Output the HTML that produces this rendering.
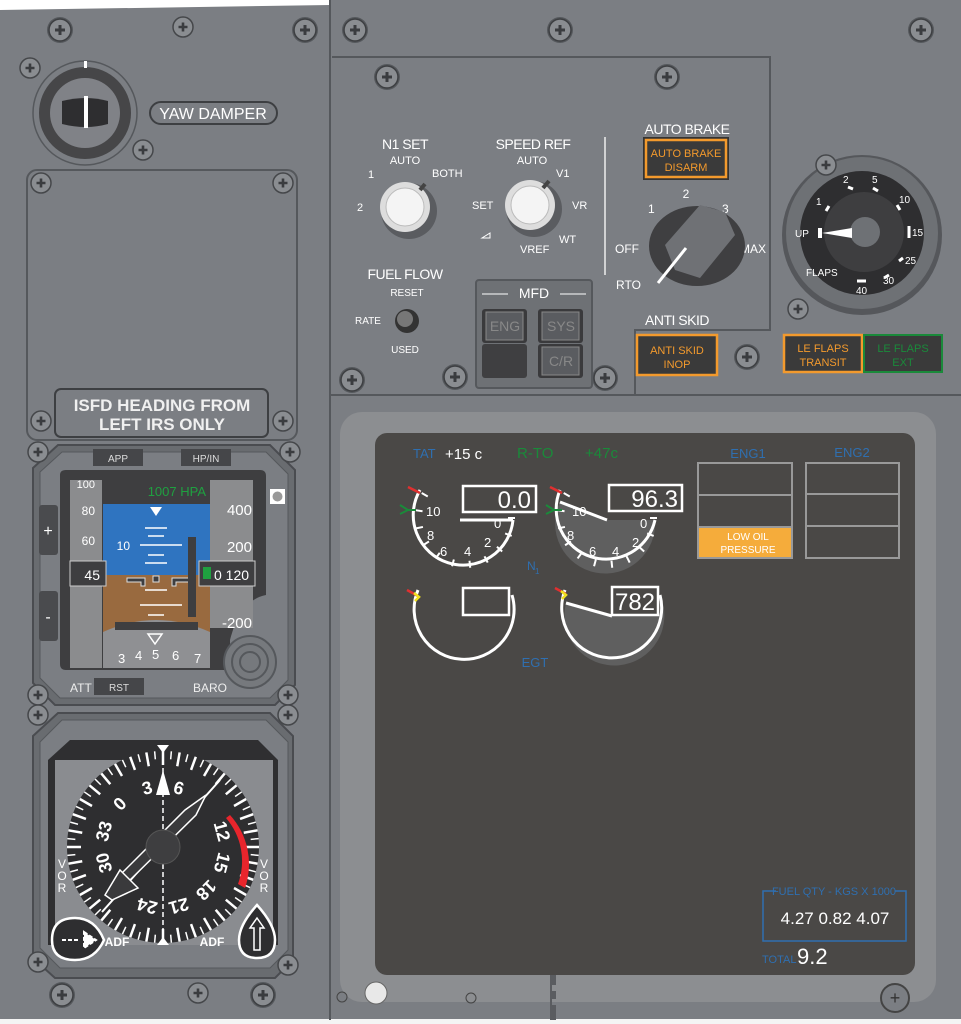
<!DOCTYPE html>
<html><head><meta charset="utf-8"><style>
html,body{margin:0;padding:0;background:#fff}
svg{display:block}
text{font-family:"Liberation Sans",sans-serif}
</style></head><body>
<svg id="s" width="961" height="1024" viewBox="0 0 961 1024" xmlns="http://www.w3.org/2000/svg">
<defs>
<g id="sc"><circle r="13" fill="#55585c"/><circle r="11" fill="#8a8d91" stroke="#3d3f42" stroke-width="1.5"/><path d="M-5,-1.5h3.5v-3.5h3v3.5h3.5v3h-3.5v3.5h-3v-3.5h-3.5z" fill="#3a3c3f"/></g>
<g id="ss"><circle r="10" fill="#8a8d91" stroke="#45474a" stroke-width="1.5"/><path d="M-4.5,-1.3h3.2v-3.2h2.6v3.2h3.2v2.6h-3.2v3.2h-2.6v-3.2h-3.2z" fill="#3a3c3f"/></g>
</defs>
<rect width="961" height="1024" fill="#7b7e83"/>
<path d="M0,0 H330 V5 L0,10z" fill="#fff"/>
<rect x="0" y="1019" width="961" height="5" fill="#f4f4f4"/>
<line x1="330" y1="0" x2="330" y2="1020" stroke="#55585c" stroke-width="2"/>
<line x1="330" y1="395" x2="961" y2="395" stroke="#55585c" stroke-width="2"/>
<path d="M332,57 H770 V330 H635 V395" fill="none" stroke="#55585c" stroke-width="2"/>

<!-- yaw damper -->
<circle cx="85" cy="113" r="52" fill="#7b7e83" stroke="#55585c" stroke-width="1.5"/>
<circle cx="85" cy="113" r="46" fill="#464648"/>
<circle cx="85" cy="113" r="35" fill="#808287"/>
<path d="M62,101 Q86,95 108,101 V124 Q86,130 62,124z" fill="#2e2e30"/>
<rect x="84" y="96" width="4" height="32" fill="#fff"/>
<rect x="84" y="61" width="3" height="7" fill="#fff"/>
<rect x="150" y="102" width="127" height="22" rx="11" fill="none" stroke="#3d3f42" stroke-width="2"/>
<text x="213" y="119" font-size="16" fill="#fff" text-anchor="middle">YAW DAMPER</text>

<!-- ISFD panel -->
<rect x="27" y="170" width="270" height="270" rx="10" fill="none" stroke="#55585c" stroke-width="2"/>
<rect x="55" y="389" width="213" height="48" rx="6" fill="none" stroke="#3d3f42" stroke-width="2"/>
<text x="162" y="411" font-size="17" font-weight="bold" fill="#f0f0f0" text-anchor="middle">ISFD HEADING FROM</text>
<text x="162" y="430" font-size="17" font-weight="bold" fill="#f0f0f0" text-anchor="middle">LEFT IRS ONLY</text>

<!-- ADI bezel -->
<path d="M58,445 H270 L295,470 V685 L275,705 H55 L33,683 V468z" fill="#696c70" stroke="#4a4c50" stroke-width="2"/>
<path d="M62,452 H266 L288,474 V680 L270,698 H60 L40,678 V472z" fill="#7b7e83" stroke="#55585c"/>
<rect x="93" y="449" width="50" height="17" fill="#454649"/><text x="118" y="462" font-size="10" fill="#ddd" text-anchor="middle">APP</text>
<rect x="181" y="449" width="50" height="17" fill="#454649"/><text x="206" y="462" font-size="10" fill="#ddd" text-anchor="middle">HP/IN</text>
<rect x="94" y="678" width="50" height="17" fill="#454649"/><text x="119" y="691" font-size="10" fill="#ddd" text-anchor="middle">RST</text>
<text x="70" y="692" font-size="12" fill="#eee">ATT</text>
<text x="193" y="692" font-size="12" fill="#eee">BARO</text>
<rect x="39" y="505" width="19" height="50" rx="3" fill="#4a4b4e"/><text x="48" y="536" font-size="16" fill="#fff" text-anchor="middle">+</text>
<rect x="39" y="591" width="19" height="50" rx="3" fill="#4a4b4e"/><text x="48" y="622" font-size="16" fill="#fff" text-anchor="middle">-</text>
<rect x="270" y="489" width="15" height="15" fill="#fff"/><circle cx="277.5" cy="496.5" r="5" fill="#999"/>
<path d="M60,475 Q60,470 66,470 H260 Q266,470 266,476 V595 Q240,600 230,640 V670 H66 Q60,670 60,664z" fill="#3e3e40"/>
<rect x="70" y="480" width="32" height="188" fill="#8b8c8e"/>
<rect x="210" y="480" width="43" height="148" fill="#8b8c8e"/>
<rect x="103" y="504" width="107" height="71" fill="#2f74c0"/>
<rect x="103" y="575" width="107" height="57" fill="#996a3f"/>
<path d="M103,632 Q156,608 210,632 V668 H103z" fill="#8f9093"/>
<text x="206" y="496" font-size="13" fill="#1fa040" text-anchor="end">1007 HPA</text>
<text x="95" y="488" font-size="11" fill="#fff" text-anchor="end">100</text>
<text x="95" y="515" font-size="12" fill="#fff" text-anchor="end">80</text>
<text x="95" y="545" font-size="12" fill="#fff" text-anchor="end">60</text>
<text x="252" y="515" font-size="15" fill="#fff" text-anchor="end">400</text>
<text x="252" y="552" font-size="15" fill="#fff" text-anchor="end">200</text>
<text x="252" y="628" font-size="15" fill="#fff" text-anchor="end">-200</text>
<rect x="70" y="561" width="36" height="25" fill="#3e3e40" stroke="#ccc"/><text x="100" y="580" font-size="14" fill="#fff" text-anchor="end">45</text>
<rect x="199" y="561" width="56" height="25" fill="#3e3e40" stroke="#ccc"/><rect x="203" y="567" width="8" height="12" fill="#1fa040"/><text x="214" y="580" font-size="14" fill="#fff">0 120</text>
<path d="M150,507 h12 l-6,9z" fill="#fff"/>
<text x="130" y="550" font-size="12" fill="#fff" text-anchor="end">10</text>
<g stroke="#fff" stroke-width="1.5"><line x1="140" y1="545" x2="182" y2="545"/><line x1="145" y1="528" x2="167" y2="528"/><line x1="148" y1="536" x2="164" y2="536"/><line x1="148" y1="555" x2="164" y2="555"/><line x1="145" y1="563" x2="167" y2="563"/><line x1="140" y1="605" x2="182" y2="605"/><line x1="145" y1="590" x2="167" y2="590"/><line x1="148" y1="615" x2="164" y2="615"/></g>
<path d="M127,578 h18 v8 h-4 v-4 h-14z M172,578 h18 v4 h-14 v4 h-4z" fill="#3e3e40" stroke="#ddd"/>
<rect x="153" y="576" width="6" height="6" fill="#3e3e40" stroke="#ddd"/>
<rect x="188" y="537" width="8" height="80" fill="#3e3e40"/>
<rect x="115" y="622" width="83" height="8" fill="#3e3e40"/>
<path d="M148,634 h14 l-7,10z" fill="none" stroke="#fff" stroke-width="1.5"/>
<text x="118" y="663" font-size="13" fill="#fff">3</text><text x="135" y="660" font-size="13" fill="#fff">4</text><text x="152" y="659" font-size="13" fill="#fff">5</text><text x="172" y="660" font-size="13" fill="#fff">6</text><text x="194" y="663" font-size="13" fill="#fff">7</text>
<circle cx="250" cy="662" r="26" fill="#76797d" stroke="#55585c" stroke-width="2"/><circle cx="250" cy="662" r="18" fill="none" stroke="#55585c" stroke-width="2"/><circle cx="250" cy="662" r="10" fill="none" stroke="#55585c" stroke-width="2"/>

<!-- compass bezel -->
<path d="M58,713 H270 L293,736 V960 L275,978 H55 L33,958 V736z" fill="#696c70" stroke="#4a4c50" stroke-width="2"/>
<path d="M62,720 H266 L288,742 V950 L270,968 H60 L40,948 V742z" fill="#7b7e83" stroke="#55585c"/>
<path d="M70,740 H258 L278,760 V945 H48 V760z" fill="#2f2f31"/>
<rect x="55" y="760" width="218" height="185" fill="#8a8c90"/>
<circle cx="163" cy="847" r="96" fill="#2e2e30"/>
<g id="cticks" stroke="#fff"></g>
<path d="M230,815 A73,73 0 0 1 245,888 L238,884 A66,66 0 0 0 226,818z" fill="#e8252c"/>
<g font-size="18" font-weight="bold" fill="#fff" text-anchor="middle" id="clabels">
<text transform="rotate(-45 163 847) translate(163 792)">0</text>
<text transform="rotate(-15 163 847) translate(163 792)">3</text>
<text transform="rotate(15 163 847) translate(163 792)">6</text>
<text transform="rotate(75 163 847) translate(163 792)">12</text>
<text transform="rotate(105 163 847) translate(163 792)">15</text>
<text transform="rotate(135 163 847) translate(163 792)">18</text>
<text transform="rotate(165 163 847) translate(163 792)">21</text>
<text transform="rotate(195 163 847) translate(163 792)">24</text>
<text transform="rotate(255 163 847) translate(163 792)">30</text>
<text transform="rotate(285 163 847) translate(163 792)">33</text>
</g>
<line x1="163" y1="760" x2="163" y2="935" stroke="#fff" stroke-width="1.5" stroke-dasharray="5,3"/>
<path d="M163,770 L170,795 H156z" fill="#fff"/>
<line x1="102" y1="912" x2="220" y2="780" stroke="#fff" stroke-width="2"/>
<path d="M206,795 L196,815 L130,880 L120,875 L185,810z" fill="#3a3a3c" stroke="#fff" stroke-width="1.5"/>
<path d="M120,870 L138,888 L112,900 L105,895z" fill="#3a3a3c" stroke="#fff" stroke-width="1.5"/>
<circle cx="163" cy="847" r="17" fill="#3e3e40" stroke="#555"/>
<path d="M157,745 h12 l-6,8z M157,945 h12 l-6,-8z" fill="#fff"/>
<g font-size="12" fill="#fff" text-anchor="middle"><text x="62" y="868">V</text><text x="62" y="880">O</text><text x="62" y="892">R</text><text x="264" y="868">V</text><text x="264" y="880">O</text><text x="264" y="892">R</text>
<text x="117" y="946" font-weight="bold">ADF</text><text x="212" y="946" font-weight="bold">ADF</text></g>
<path d="M52,940 Q52,918 75,918 Q95,918 104,940 Q95,960 75,960 Q52,960 52,940z" fill="#2e2e30" stroke="#fff" stroke-width="2.5"/>
<path d="M62,940 h18 M84,932 l12,8 l-12,8z" stroke="#fff" stroke-width="2" fill="#fff" stroke-dasharray="4,2"/>
<path d="M257,905 Q275,925 275,940 Q275,958 257,958 Q239,958 239,940 Q239,925 257,905z" fill="#2e2e30" stroke="#fff" stroke-width="2.5"/>
<path d="M257,918 l-7,10 h4 v22 h6 v-22 h4z" fill="none" stroke="#fff" stroke-width="1.5"/>

<!-- top right controls -->
<text x="405" y="149" font-size="14" fill="#fff" text-anchor="middle" letter-spacing="-0.5">N1 SET</text>
<g font-size="11" fill="#fff"><text x="405" y="164" text-anchor="middle">AUTO</text><text x="368" y="178">1</text><text x="357" y="211">2</text><text x="432" y="177">BOTH</text></g>
<circle cx="409" cy="211" r="28" fill="#5a5c60"/>
<circle cx="405" cy="207" r="25" fill="#ddd"/><circle cx="405" cy="207" r="19" fill="#f4f4f4" stroke="#bbb"/>
<line x1="420" y1="190" x2="425" y2="184" stroke="#444" stroke-width="4"/>
<text x="533" y="149" font-size="14" fill="#fff" text-anchor="middle" letter-spacing="-0.5">SPEED REF</text>
<g font-size="11" fill="#fff"><text x="532" y="164" text-anchor="middle">AUTO</text><text x="556" y="177">V1</text><text x="472" y="209">SET</text><text x="572" y="209">VR</text><text x="559" y="243">WT</text><text x="520" y="253">VREF</text></g>
<path d="M490,233 l-8,5 h8z" fill="none" stroke="#fff"/>
<circle cx="534" cy="209" r="28" fill="#5a5c60"/>
<circle cx="530" cy="205" r="25" fill="#ddd"/><circle cx="530" cy="205" r="19" fill="#f4f4f4" stroke="#bbb"/>
<line x1="543" y1="188" x2="549" y2="181" stroke="#444" stroke-width="4"/>
<line x1="605" y1="137" x2="605" y2="275" stroke="#eee" stroke-width="1.5"/>
<text x="687" y="134" font-size="14" fill="#fff" text-anchor="middle" letter-spacing="-0.5">AUTO BRAKE</text>
<rect x="643" y="137" width="86" height="43" fill="#333"/><rect x="646" y="140" width="80" height="37" fill="#3a3a3a" stroke="#f39a2d" stroke-width="2.5"/>
<text x="686" y="157" font-size="11" fill="#f39a2d" text-anchor="middle">AUTO BRAKE</text><text x="686" y="171" font-size="11" fill="#f39a2d" text-anchor="middle">DISARM</text>
<g font-size="12" fill="#fff"><text x="686" y="198" text-anchor="middle">2</text><text x="648" y="213">1</text><text x="722" y="213">3</text><text x="615" y="253">OFF</text><text x="740" y="253">MAX</text><text x="616" y="289">RTO</text></g>
<ellipse cx="697" cy="246" rx="48" ry="40" fill="#3f3f41"/>
<path d="M700,205 L725,212 L735,235 L700,278 L675,270 L665,245z" fill="#6f7175"/>
<line x1="658" y1="283" x2="686" y2="248" stroke="#fff" stroke-width="3"/>

<text x="405" y="279" font-size="14" fill="#fff" text-anchor="middle" letter-spacing="-0.5">FUEL FLOW</text>
<g font-size="10" fill="#fff"><text x="407" y="296" text-anchor="middle">RESET</text><text x="355" y="324">RATE</text><text x="405" y="353" text-anchor="middle">USED</text></g>
<circle cx="407" cy="321" r="12" fill="#333"/><circle cx="405" cy="319" r="8" fill="#777"/>

<rect x="476" y="280" width="116" height="108" rx="3" fill="#6e7175" stroke="#55585c" stroke-width="2"/>
<text x="534" y="298" font-size="14" fill="#fff" text-anchor="middle">MFD</text>
<line x1="482" y1="294" x2="508" y2="294" stroke="#fff"/><line x1="560" y1="294" x2="586" y2="294" stroke="#fff"/>
<rect x="482" y="309" width="45" height="34" rx="3" fill="#3a3a3c"/><rect x="486" y="312" width="37" height="28" fill="#5a5c60" stroke="#888"/><text x="505" y="331" font-size="14" fill="#888" text-anchor="middle">ENG</text>
<rect x="538" y="309" width="45" height="34" rx="3" fill="#3a3a3c"/><rect x="542" y="312" width="37" height="28" fill="#5a5c60" stroke="#888"/><text x="561" y="331" font-size="14" fill="#888" text-anchor="middle">SYS</text>
<rect x="482" y="344" width="45" height="34" rx="3" fill="#3f3f41"/>
<rect x="538" y="344" width="45" height="34" rx="3" fill="#3a3a3c"/><rect x="542" y="347" width="37" height="28" fill="#5a5c60" stroke="#888"/><text x="561" y="366" font-size="14" fill="#888" text-anchor="middle">C/R</text>

<text x="677" y="325" font-size="14" fill="#fff" text-anchor="middle" letter-spacing="-0.5">ANTI SKID</text>
<rect x="637" y="335" width="80" height="40" fill="#3a3a3a" stroke="#f39a2d" stroke-width="2.5"/>
<text x="677" y="354" font-size="11" fill="#f39a2d" text-anchor="middle">ANTI SKID</text><text x="677" y="368" font-size="11" fill="#f39a2d" text-anchor="middle">INOP</text>
<rect x="784" y="335" width="78" height="37" fill="#3a3a3a" stroke="#f39a2d" stroke-width="2.5"/>
<text x="823" y="352" font-size="11" fill="#f39a2d" text-anchor="middle">LE FLAPS</text><text x="823" y="366" font-size="11" fill="#f39a2d" text-anchor="middle">TRANSIT</text>
<rect x="864" y="335" width="78" height="37" fill="#3a3a3a" stroke="#1a8a3a" stroke-width="2"/>
<text x="903" y="352" font-size="11" fill="#1a8a3a" text-anchor="middle">LE FLAPS</text><text x="903" y="366" font-size="11" fill="#1a8a3a" text-anchor="middle">EXT</text>

<!-- flaps gauge -->
<circle cx="862" cy="235" r="80" fill="#55575b"/>
<circle cx="862" cy="233" r="76" fill="#6e7175"/>
<circle cx="862" cy="233" r="62" fill="#2e2e30"/>
<circle cx="864" cy="232" r="40" fill="#3e3e40"/>
<circle cx="865" cy="232" r="15" fill="#6e7175"/>
<path d="M822,233 L852,228 V238z" fill="#fff"/><rect x="818" y="228" width="4" height="10" fill="#fff"/>
<g stroke="#fff" stroke-width="3"><line x1="829" y1="206" x2="826" y2="211"/><line x1="848" y1="187" x2="853" y2="189"/><line x1="873" y1="188" x2="878" y2="191"/><line x1="897" y1="205" x2="900" y2="210"/><line x1="909" y1="226" x2="909" y2="238"/><line x1="903" y1="258" x2="899" y2="261"/><line x1="889" y1="275" x2="884" y2="278"/><line x1="857" y1="281" x2="866" y2="281"/></g>
<g font-size="10" fill="#fff"><text x="816" y="205">1</text><text x="843" y="183">2</text><text x="872" y="183">5</text><text x="899" y="203">10</text><text x="912" y="236">15</text><text x="905" y="264">25</text><text x="883" y="284">30</text><text x="856" y="294">40</text><text x="795" y="237">UP</text><text x="806" y="276">FLAPS</text></g>

<!-- display -->
<rect x="340" y="412" width="596" height="590" rx="22" fill="#8c8e91"/>
<rect x="375" y="433" width="540" height="542" rx="12" fill="#4a4846"/>
<path d="M550,975 h6 v10 h-4 v6 h4 v8 h-4 v6 h4 v15 h-6z" fill="#5a5c60"/>
<circle cx="376" cy="993" r="11" fill="#e8e8e8" stroke="#666"/>
<circle cx="342" cy="997" r="5" fill="none" stroke="#444"/><circle cx="471" cy="998" r="5" fill="none" stroke="#444"/>
<circle cx="895" cy="998" r="14" fill="#7b7e83" stroke="#444" stroke-width="2"/><text x="895" y="1004" font-size="18" fill="#333" text-anchor="middle">+</text>

<g font-size="15">
<text x="413" y="458" fill="#2f6fb0" font-size="13">TAT</text><text x="445" y="459" fill="#fff">+15 c</text>
<text x="517" y="458" fill="#1a8a3a">R-TO</text><text x="585" y="458" fill="#1a8a3a">+47c</text>
<text x="748" y="458" fill="#2f6fb0" font-size="13" text-anchor="middle">ENG1</text><text x="852" y="457" fill="#2f6fb0" font-size="13" text-anchor="middle">ENG2</text>
</g>
<g fill="none" stroke="#999" stroke-width="2">
<rect x="698" y="463" width="94" height="32"/><rect x="698" y="495" width="94" height="32"/>
<rect x="806" y="463" width="93" height="31"/><rect x="806" y="494" width="93" height="32"/><rect x="806" y="526" width="93" height="32"/></g>
<rect x="698" y="527" width="94" height="31" fill="#f5ac3b" stroke="#999" stroke-width="2"/>
<text x="748" y="540" font-size="10" fill="#fff" text-anchor="middle">LOW OIL</text><text x="748" y="553" font-size="10" fill="#fff" text-anchor="middle">PRESSURE</text>

<!-- N1 gauges -->
<path d="M605,520 L560,502 A50,50 0 1 0 655,520z" fill="#5f5f5f"/>
<path d="M612,616 L566,603 A50,50 0 1 0 660,595 V616z" fill="#5f5f5f"/>
<g fill="none" stroke="#fff" stroke-width="3">
<path d="M420,490 A50,50 0 1 0 513,520"/><line x1="460" y1="520" x2="513" y2="520"/>
<path d="M560,490 A50,50 0 1 0 655,520"/><line x1="560" y1="502" x2="607" y2="520"/>
<path d="M418,590 A50,50 0 1 0 512,595"/>
<path d="M565,590 A50,50 0 1 0 660,595"/><line x1="566" y1="603" x2="612" y2="616"/>
</g>
<g id="n1ticks" stroke="#fff" stroke-width="2"></g>
<g font-size="13" fill="#fff">
<text x="426" y="516">10</text><text x="427" y="540">8</text><text x="440" y="556">6</text><text x="464" y="556">4</text><text x="484" y="547">2</text><text x="494" y="528">0</text>
<text x="572" y="516">10</text><text x="567" y="540">8</text><text x="589" y="556">6</text><text x="612" y="556">4</text><text x="632" y="547">2</text><text x="640" y="528">0</text>
</g>
<g stroke="#e03030" stroke-width="2.5"><line x1="408" y1="487" x2="420" y2="493"/><line x1="550" y1="487" x2="562" y2="493"/><line x1="407" y1="590" x2="418" y2="596"/><line x1="555" y1="588" x2="566" y2="594"/></g>
<g stroke="#1a8a3a" stroke-width="2" fill="none"><path d="M400,505 l8,5 l-8,4 M408,510 h8"/><path d="M546,505 l8,5 l-8,4 M554,510 h8"/></g>
<g stroke="#f0e020" stroke-width="2.5" fill="none"><path d="M414,593 l5,4 l-4,4"/><path d="M561,591 l5,4 l-4,4"/></g>
<rect x="463" y="486" width="73" height="26" fill="none" stroke="#fff" stroke-width="2.5"/><text x="531" y="508" font-size="24" fill="#fff" text-anchor="end">0.0</text>
<rect x="609" y="485" width="73" height="26" fill="#4a4846" stroke="#fff" stroke-width="2.5"/><text x="678" y="507" font-size="24" fill="#fff" text-anchor="end">96.3</text>
<rect x="463" y="588" width="46" height="27" fill="none" stroke="#fff" stroke-width="2.5"/>
<rect x="612" y="587" width="46" height="28" fill="#4a4846" stroke="#fff" stroke-width="2.5"/><text x="635" y="610" font-size="24" fill="#fff" text-anchor="middle">782</text>
<text x="527" y="570" font-size="12" fill="#2f6fb0">N</text><text x="535" y="574" font-size="8" fill="#2f6fb0">1</text>
<text x="535" y="667" font-size="13" fill="#2f6fb0" text-anchor="middle">EGT</text>

<!-- fuel -->
<path d="M776,891 h-13 v50 h143 v-50 h-11" fill="none" stroke="#2f6fb0" stroke-width="1.5"/>
<text x="834" y="895" font-size="11" fill="#2f6fb0" text-anchor="middle">FUEL QTY - KGS X 1000</text>
<text x="835" y="924" font-size="17" fill="#fff" text-anchor="middle" font-family="Liberation Mono,monospace">4.27 0.82 4.07</text>
<text x="762" y="963" font-size="11" fill="#2f6fb0">TOTAL</text><text x="797" y="964" font-size="22" fill="#fff" font-family="Liberation Mono,monospace">9.2</text>

<!-- screws -->
<g>
<use href="#sc" x="60" y="30"/><use href="#ss" x="183" y="27"/><use href="#sc" x="305" y="30"/><use href="#ss" x="30" y="68"/><use href="#ss" x="143" y="150"/>
<use href="#ss" x="41" y="183"/><use href="#ss" x="283" y="183"/><use href="#ss" x="41" y="421"/><use href="#ss" x="283" y="421"/>
<use href="#ss" x="38" y="452"/><use href="#ss" x="290" y="452"/><use href="#ss" x="38" y="695"/><use href="#ss" x="288" y="695"/>
<use href="#ss" x="38" y="715"/><use href="#ss" x="288" y="715"/><use href="#ss" x="38" y="962"/><use href="#ss" x="288" y="965"/>
<use href="#sc" x="62" y="995"/><use href="#ss" x="198" y="993"/><use href="#sc" x="263" y="995"/>
<use href="#sc" x="355" y="30"/><use href="#sc" x="560" y="30"/><use href="#sc" x="921" y="30"/>
<use href="#sc" x="387" y="77"/><use href="#sc" x="667" y="77"/><use href="#ss" x="826" y="165"/><use href="#ss" x="798" y="309"/>
<use href="#sc" x="352" y="380"/><use href="#sc" x="455" y="377"/><use href="#sc" x="605" y="378"/><use href="#sc" x="747" y="357"/>
</g>
</svg>
<script>
var NS="http://www.w3.org/2000/svg";
var g=document.getElementById("cticks");
for(var i=0;i<72;i++){var a=i*5*Math.PI/180;var long=i%2==0;var r1=96,r2=long?82:88;
var l=document.createElementNS(NS,"line");
l.setAttribute("x1",163+r1*Math.sin(a));l.setAttribute("y1",847-r1*Math.cos(a));
l.setAttribute("x2",163+r2*Math.sin(a));l.setAttribute("y2",847-r2*Math.cos(a));
l.setAttribute("stroke-width",long?2.5:1.5);g.appendChild(l);}
var t=document.getElementById("n1ticks");
[[465,518],[607,518]].forEach(function(c){for(var k=0;k<=10;k++){
var ang=(150+k*21)*Math.PI/180;
var x1=c[0]+50*Math.cos(ang),y1=c[1]-50*Math.sin(ang),x2=c[0]+43*Math.cos(ang),y2=c[1]-43*Math.sin(ang);
var l=document.createElementNS(NS,"line");l.setAttribute("x1",x1);l.setAttribute("y1",y1);l.setAttribute("x2",x2);l.setAttribute("y2",y2);t.appendChild(l);}});
</script>
</body></html>
